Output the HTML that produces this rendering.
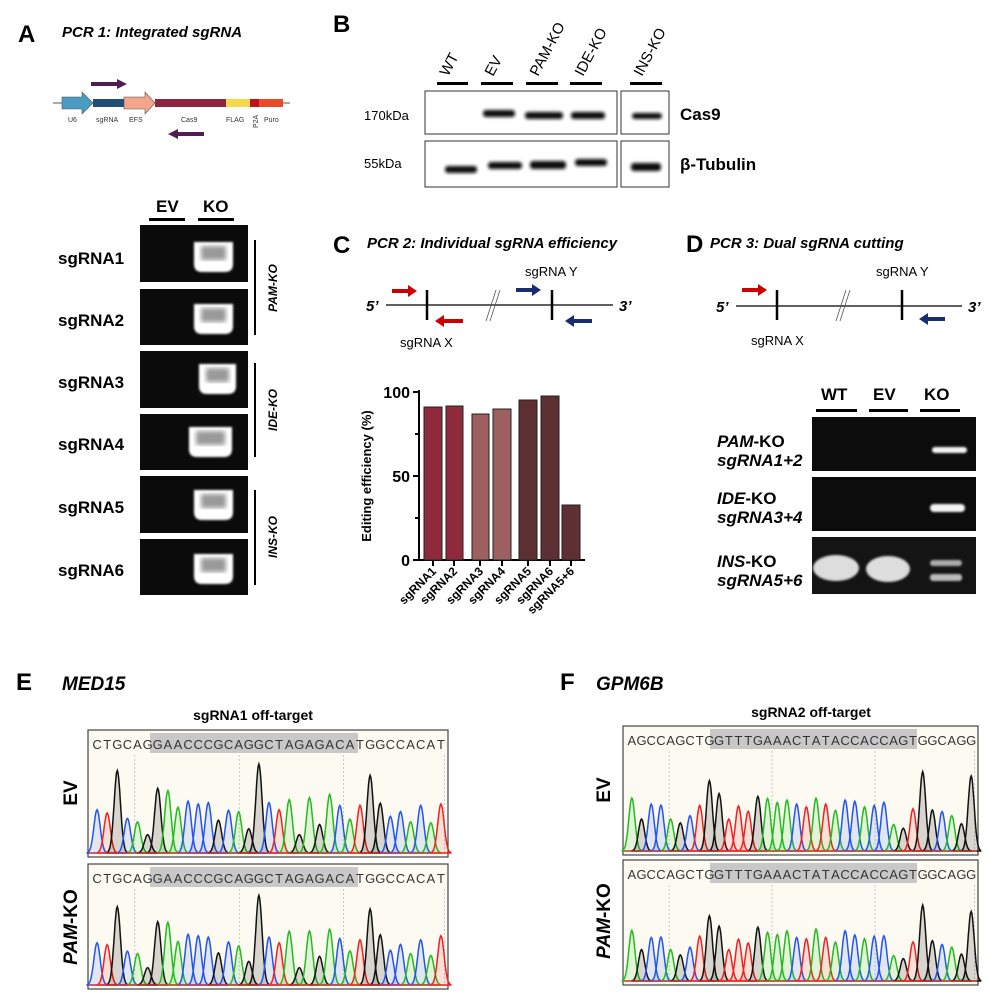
<!DOCTYPE html>
<html><head><meta charset="utf-8"><style>
html,body{margin:0;padding:0;background:#fff}
svg{display:block;font-family:"Liberation Sans",Arial,sans-serif}
</style></head><body>
<svg id="s" width="1000" height="1004" viewBox="0 0 1000 1004" xmlns="http://www.w3.org/2000/svg">
<defs>
<filter id="bl"><feGaussianBlur stdDeviation="1.6"/></filter>
<filter id="bl2"><feGaussianBlur stdDeviation="1"/></filter>
<filter id="bl3"><feGaussianBlur stdDeviation="2.5"/></filter>
</defs>
<!-- A -->
<text x="18" y="42" font-size="24" font-weight="bold">A</text>
<text x="62" y="37" font-size="15" font-weight="bold" font-style="italic">PCR 1: Integrated sgRNA</text>
<line x1="53" y1="103" x2="290" y2="103" stroke="#555" stroke-width="1"/>
<polygon points="62,97 82,97 82,92 93,103 82,114 82,109 62,109" fill="#4a9cc0" stroke="#555" stroke-width="0.6"/>
<rect x="93" y="99" width="31" height="8" fill="#1f4e79"/>
<polygon points="124,97 145,97 145,92 155,103 145,114 145,109 124,109" fill="#f4a58a" stroke="#555" stroke-width="0.6"/>
<rect x="155" y="99" width="71" height="8" fill="#8e2440"/>
<rect x="226" y="99" width="24" height="8" fill="#f6d94a"/>
<rect x="250" y="99" width="9" height="8" fill="#c0101a"/>
<rect x="259" y="99" width="24" height="8" fill="#e84a2a"/>
<g font-size="7" fill="#333"><text x="68" y="122">U6</text><text x="96" y="122">sgRNA</text><text x="129" y="122">EFS</text><text x="181" y="122">Cas9</text><text x="226" y="122">FLAG</text><text x="258" y="128" transform="rotate(-90 258 128)">P2A</text><text x="264" y="122">Puro</text></g>
<polygon points="91,82 117,82 117,79 127,84 117,89 117,86 91,86" fill="#4d2050"/>
<polygon points="204,132 178,132 178,129 168,134 178,139 178,136 204,136" fill="#4d2050"/>
<g font-size="17" font-weight="bold"><text x="156" y="212">EV</text><text x="203" y="212">KO</text></g>
<rect x="149" y="218" width="36" height="3"/><rect x="198" y="218" width="36" height="3"/>
<g id="gelA"></g>
<g font-size="17" font-weight="bold">
<text x="58" y="264">sgRNA1</text><text x="58" y="326">sgRNA2</text><text x="58" y="388">sgRNA3</text><text x="58" y="450">sgRNA4</text><text x="58" y="513">sgRNA5</text><text x="58" y="576">sgRNA6</text></g>
<g stroke="#000" stroke-width="2"><line x1="255" y1="240" x2="255" y2="335"/><line x1="255" y1="363" x2="255" y2="457"/><line x1="255" y1="490" x2="255" y2="585"/></g>
<g font-size="12" font-weight="bold" font-style="italic">
<text transform="translate(277,288) rotate(-90)" text-anchor="middle">PAM-KO</text>
<text transform="translate(277,410) rotate(-90)" text-anchor="middle">IDE-KO</text>
<text transform="translate(277,537) rotate(-90)" text-anchor="middle">INS-KO</text></g>
<!-- B -->
<text x="333" y="32" font-size="24" font-weight="bold">B</text>
<g font-size="15">
<text transform="translate(448,77) rotate(-62)">WT</text>
<text transform="translate(493,77) rotate(-62)">EV</text>
<text transform="translate(538,77) rotate(-62)">PAM-KO</text>
<text transform="translate(583,77) rotate(-62)">IDE-KO</text>
<text transform="translate(642,77) rotate(-62)">INS-KO</text></g>
<g><rect x="437" y="82" width="31" height="3"/><rect x="481" y="82" width="32" height="3"/><rect x="526" y="82" width="32" height="3"/><rect x="570" y="82" width="32" height="3"/><rect x="630" y="82" width="32" height="3"/></g>
<g fill="none" stroke="#333" stroke-width="1"><rect x="425" y="91" width="192" height="43"/><rect x="621" y="91" width="48" height="43"/><rect x="425" y="141" width="192" height="46"/><rect x="621" y="141" width="48" height="46"/></g>
<g filter="url(#bl)" fill="#111">
<rect x="483" y="110" width="32" height="7" rx="3"/><rect x="525" y="112" width="38" height="7" rx="3"/><rect x="571" y="112" width="34" height="7" rx="3"/><rect x="632" y="113" width="30" height="6" rx="3"/>
<rect x="445" y="166" width="32" height="7" rx="3"/><rect x="488" y="162" width="34" height="7" rx="3"/><rect x="530" y="161" width="36" height="8" rx="3"/><rect x="575" y="159" width="32" height="7" rx="3"/><rect x="631" y="163" width="30" height="8" rx="3"/></g>
<text x="364" y="120" font-size="13">170kDa</text><text x="364" y="168" font-size="13">55kDa</text>
<text x="680" y="120" font-size="17" font-weight="bold">Cas9</text><text x="680" y="170" font-size="17" font-weight="bold">β-Tubulin</text>
<!-- C -->
<text x="333" y="253" font-size="24" font-weight="bold">C</text>
<text x="367" y="248" font-size="15" font-weight="bold" font-style="italic">PCR 2: Individual sgRNA efficiency</text>
<line x1="386" y1="305" x2="613" y2="305" stroke="#000" stroke-width="1.3"/>
<line x1="427" y1="290" x2="427" y2="320" stroke="#000" stroke-width="2.5"/><line x1="552" y1="290" x2="552" y2="320" stroke="#000" stroke-width="2.5"/>
<line x1="486" y1="321" x2="496" y2="290" stroke="#555" stroke-width="0.8"/><line x1="490" y1="321" x2="500" y2="290" stroke="#555" stroke-width="0.8"/>
<text x="366" y="311" font-size="15" font-weight="bold" font-style="italic">5’</text><text x="619" y="311" font-size="15" font-weight="bold" font-style="italic">3’</text>
<polygon points="392,289 408,289 408,285 417,291 408,297 408,293 392,293" fill="#c00"/>
<polygon points="463,319 444,319 444,315 435,321 444,327 444,323 463,323" fill="#c00"/>
<polygon points="516,288 532,288 532,284 541,290 532,296 532,292 516,292" fill="#1a2e6e"/>
<polygon points="592,319 574,319 574,315 565,321 574,327 574,323 592,323" fill="#1a2e6e"/>
<text x="400" y="347" font-size="13">sgRNA X</text><text x="525" y="276" font-size="13">sgRNA Y</text>
<!-- chart -->
<line x1="419" y1="390" x2="419" y2="561" stroke="#000" stroke-width="2"/>
<line x1="418" y1="560" x2="585" y2="560" stroke="#000" stroke-width="2"/>
<g stroke="#000" stroke-width="2"><line x1="413" y1="392" x2="419" y2="392"/><line x1="413" y1="476" x2="419" y2="476"/><line x1="415" y1="434" x2="419" y2="434"/><line x1="415" y1="518" x2="419" y2="518"/><line x1="413" y1="560" x2="419" y2="560"/></g>
<g font-size="16" font-weight="bold" text-anchor="end"><text x="410" y="398">100</text><text x="410" y="482">50</text><text x="410" y="566">0</text></g>
<text transform="translate(371,476) rotate(-90)" text-anchor="middle" font-size="13" font-weight="bold">Editing efficiency (%)</text>
<g stroke="#222" stroke-width="1">
<rect x="424" y="407" width="18" height="153" fill="#8e2a3b"/>
<rect x="446" y="406" width="17" height="154" fill="#8e2a3b"/>
<rect x="472" y="414" width="17" height="146" fill="#9c6060"/>
<rect x="493" y="409" width="18" height="151" fill="#9c6060"/>
<rect x="519" y="400" width="18" height="160" fill="#5e2f33"/>
<rect x="541" y="396" width="18" height="164" fill="#5e2f33"/>
<rect x="562" y="505" width="18" height="55" fill="#5e2f33"/></g>
<g stroke="#000" stroke-width="2"><line x1="433" y1="560" x2="433" y2="566"/><line x1="454" y1="560" x2="454" y2="566"/><line x1="480" y1="560" x2="480" y2="566"/><line x1="502" y1="560" x2="502" y2="566"/><line x1="528" y1="560" x2="528" y2="566"/><line x1="550" y1="560" x2="550" y2="566"/><line x1="571" y1="560" x2="571" y2="566"/></g>
<g font-size="12" font-weight="bold" text-anchor="end">
<text transform="translate(437,572) rotate(-45)">sgRNA1</text><text transform="translate(458,572) rotate(-45)">sgRNA2</text><text transform="translate(484,572) rotate(-45)">sgRNA3</text><text transform="translate(506,572) rotate(-45)">sgRNA4</text><text transform="translate(532,572) rotate(-45)">sgRNA5</text><text transform="translate(554,572) rotate(-45)">sgRNA6</text><text transform="translate(575,572) rotate(-45)">sgRNA5+6</text></g>
<!-- D -->
<text x="686" y="252" font-size="24" font-weight="bold">D</text>
<text x="710" y="248" font-size="15" font-weight="bold" font-style="italic">PCR 3: Dual sgRNA cutting</text>
<line x1="736" y1="306" x2="962" y2="306" stroke="#000" stroke-width="1.3"/>
<line x1="777" y1="290" x2="777" y2="320" stroke="#000" stroke-width="2.5"/><line x1="902" y1="290" x2="902" y2="320" stroke="#000" stroke-width="2.5"/>
<line x1="836" y1="321" x2="846" y2="290" stroke="#555" stroke-width="0.8"/><line x1="840" y1="321" x2="850" y2="290" stroke="#555" stroke-width="0.8"/>
<text x="716" y="312" font-size="15" font-weight="bold" font-style="italic">5’</text><text x="968" y="312" font-size="15" font-weight="bold" font-style="italic">3’</text>
<polygon points="742,288 758,288 758,284 767,290 758,296 758,292 742,292" fill="#c00"/>
<polygon points="945,317 928,317 928,313 919,319 928,325 928,321 945,321" fill="#1a2e6e"/>
<text x="751" y="345" font-size="13">sgRNA X</text><text x="876" y="276" font-size="13">sgRNA Y</text>
<g font-size="17" font-weight="bold"><text x="821" y="400">WT</text><text x="873" y="400">EV</text><text x="924" y="400">KO</text></g>
<rect x="816" y="409" width="41" height="3"/><rect x="869" y="409" width="39" height="3"/><rect x="920" y="409" width="40" height="3"/>
<rect x="812" y="417" width="164" height="54" fill="#0c0c0c"/>
<rect x="812" y="477" width="164" height="54" fill="#0c0c0c"/>
<rect x="812" y="537" width="164" height="57" fill="#141414"/>
<g filter="url(#bl2)" fill="#f4f4f4">
<rect x="932" y="447" width="35" height="6" rx="3"/>
<rect x="930" y="504" width="35" height="8" rx="4"/>
<ellipse cx="836" cy="568" rx="23" ry="13" fill="#ddd"/><ellipse cx="888" cy="569" rx="22" ry="13" fill="#ddd"/>
<rect x="930" y="560" width="32" height="6" rx="3" fill="#aaa"/><rect x="930" y="574" width="32" height="7" rx="3" fill="#bbb"/></g>
<g font-size="17" font-weight="bold" font-style="italic">
<text x="717" y="447"><tspan>PAM</tspan><tspan font-style="normal">-KO</tspan></text><text x="717" y="466">sgRNA1+2</text>
<text x="717" y="504"><tspan>IDE</tspan><tspan font-style="normal">-KO</tspan></text><text x="717" y="523">sgRNA3+4</text>
<text x="717" y="567"><tspan>INS</tspan><tspan font-style="normal">-KO</tspan></text><text x="717" y="586">sgRNA5+6</text></g>
<!-- E F -->
<text x="16" y="690" font-size="24" font-weight="bold">E</text>
<text x="62" y="690" font-size="19" font-weight="bold" font-style="italic">MED15</text>
<text x="253" y="720" font-size="14" font-weight="bold" text-anchor="middle">sgRNA1 off-target</text>
<text x="560" y="690" font-size="24" font-weight="bold">F</text>
<text x="596" y="690" font-size="19" font-weight="bold" font-style="italic">GPM6B</text>
<text x="811" y="717" font-size="14" font-weight="bold" text-anchor="middle">sgRNA2 off-target</text>
<g font-size="19" font-weight="bold">
<text transform="translate(77,793) rotate(-90)" text-anchor="middle">EV</text>
<text transform="translate(77,927) rotate(-90)" text-anchor="middle"><tspan font-style="italic">PAM</tspan>-KO</text>
<text transform="translate(610,790) rotate(-90)" text-anchor="middle">EV</text>
<text transform="translate(610,921) rotate(-90)" text-anchor="middle"><tspan font-style="italic">PAM</tspan>-KO</text></g>
<g id="chrom"></g>
</svg>
<script>
var NS="http://www.w3.org/2000/svg";
function el(p,t,a){var e=document.createElementNS(NS,t);for(var k in a)e.setAttribute(k,a[k]);p.appendChild(e);return e;}
var g=document.getElementById('gelA');
var rows=[[225,282,258,194,233],[289,345,320,194,233],[351,408,380,199,236],[414,470,443,189,232],[476,533,506,194,233],[539,595,570,194,233]];
rows.forEach(function(r){el(g,'rect',{x:140,y:r[0],width:108,height:r[1]-r[0],fill:'#0b0b0b'});
el(g,'path',{d:'M'+r[3]+','+(r[2]-16)+' L'+r[4]+','+(r[2]-16)+' L'+r[4]+','+(r[2]+6)+' Q'+r[4]+','+(r[2]+14)+' '+(r[4]-8)+','+(r[2]+14)+' L'+(r[3]+8)+','+(r[2]+14)+' Q'+r[3]+','+(r[2]+14)+' '+r[3]+','+(r[2]+6)+'Z',fill:'#fff',filter:'url(#bl2)'});
el(g,'rect',{x:r[3]+7,y:r[2]-12,width:r[4]-r[3]-14,height:14,fill:'#999',filter:'url(#bl3)'});});
var col={A:'#22bb22',C:'#2255ee',G:'#111',T:'#ee2222'};
var fill={A:'rgba(34,187,34,0.12)',C:'rgba(34,85,238,0.12)',G:'rgba(0,0,0,0.15)',T:'rgba(238,34,34,0.12)'};
var ch=document.getElementById('chrom');
function chrom(x0,x1,y0,y1,seq,hx0,hx1,hs,seed){
 el(ch,'rect',{x:x0,y:y0,width:x1-x0,height:y1-y0,fill:'#fdfbf1',stroke:'#444','stroke-width':1.2});
 el(ch,'rect',{x:hx0,y:y0+3,width:hx1-hx0,height:20,fill:'#c8c8c8'});
 var n=seq.length,step=(x1-x0-6)/n;
 for(var i=0;i<n;i++){var t=el(ch,'text',{x:x0+4+i*step+step/2,y:y0+19,'font-size':13,'text-anchor':'middle',fill:'#333'});t.textContent=seq[i];}
 [0.13,0.42,0.71,0.99].forEach(function(f){el(ch,'line',{x1:x0+f*(x1-x0),y1:y0+25,x2:x0+f*(x1-x0),y2:y1-5,stroke:'#bbb','stroke-dasharray':'2,2','stroke-width':0.8});});
 var base=y1-4,maxh=y1-y0-38;
 for(var i=0;i<n;i++){var c=seq[i],cx=x0+4+i*step+step/2,h=maxh*hs[i%hs.length]*(1+0.03*((i*seed)%3-1)),w=step*0.75;
  var d='M'+(cx-w*1.3)+','+base;for(var k=-13;k<=13;k++){var xx=cx+k*w/10;d+=' L'+xx.toFixed(1)+','+(base-h*Math.exp(-(k*k)/35)).toFixed(1);}d+=' L'+(cx+w*1.3)+','+base;
  el(ch,'path',{d:d+'Z',fill:fill[c],stroke:col[c],'stroke-width':1.5});}
 el(ch,'line',{x1:x0+1,y1:base,x2:x1-1,y2:base,stroke:'#e33','stroke-width':1.2});
}
var sE="CTGCAGGAACCCGCAGGCTAGAGACATGGCCACAT";
var hE=[.5,.45,.9,.4,.35,.2,.75,.7,.5,.6,.55,.55,.38,.48,.45,.28,1,.55,.5,.6,.2,.64,.32,.64,.55,.38,.52,.9,.56,.4,.48,.35,.52,.35,.55];
chrom(88,448,730,857,sE,150,358,hE,1);chrom(88,448,864,989,sE,150,358,hE,2);
var sF="AGCCAGCTGGTTTGAAACTATACCACCAGTGGCAGG";
var hF=[.6,.35,.5,.52,.35,.3,.4,.5,.75,.65,.35,.48,.45,.6,.56,.55,.56,.5,.5,.58,.5,.46,.56,.53,.5,.5,.52,.3,.25,.45,.9,.45,.42,.4,.3,.8];
chrom(623,978,726,855,sF,710,917,hF,1);chrom(623,978,860,985,sF,710,917,hF,2);
</script>
</body></html>
